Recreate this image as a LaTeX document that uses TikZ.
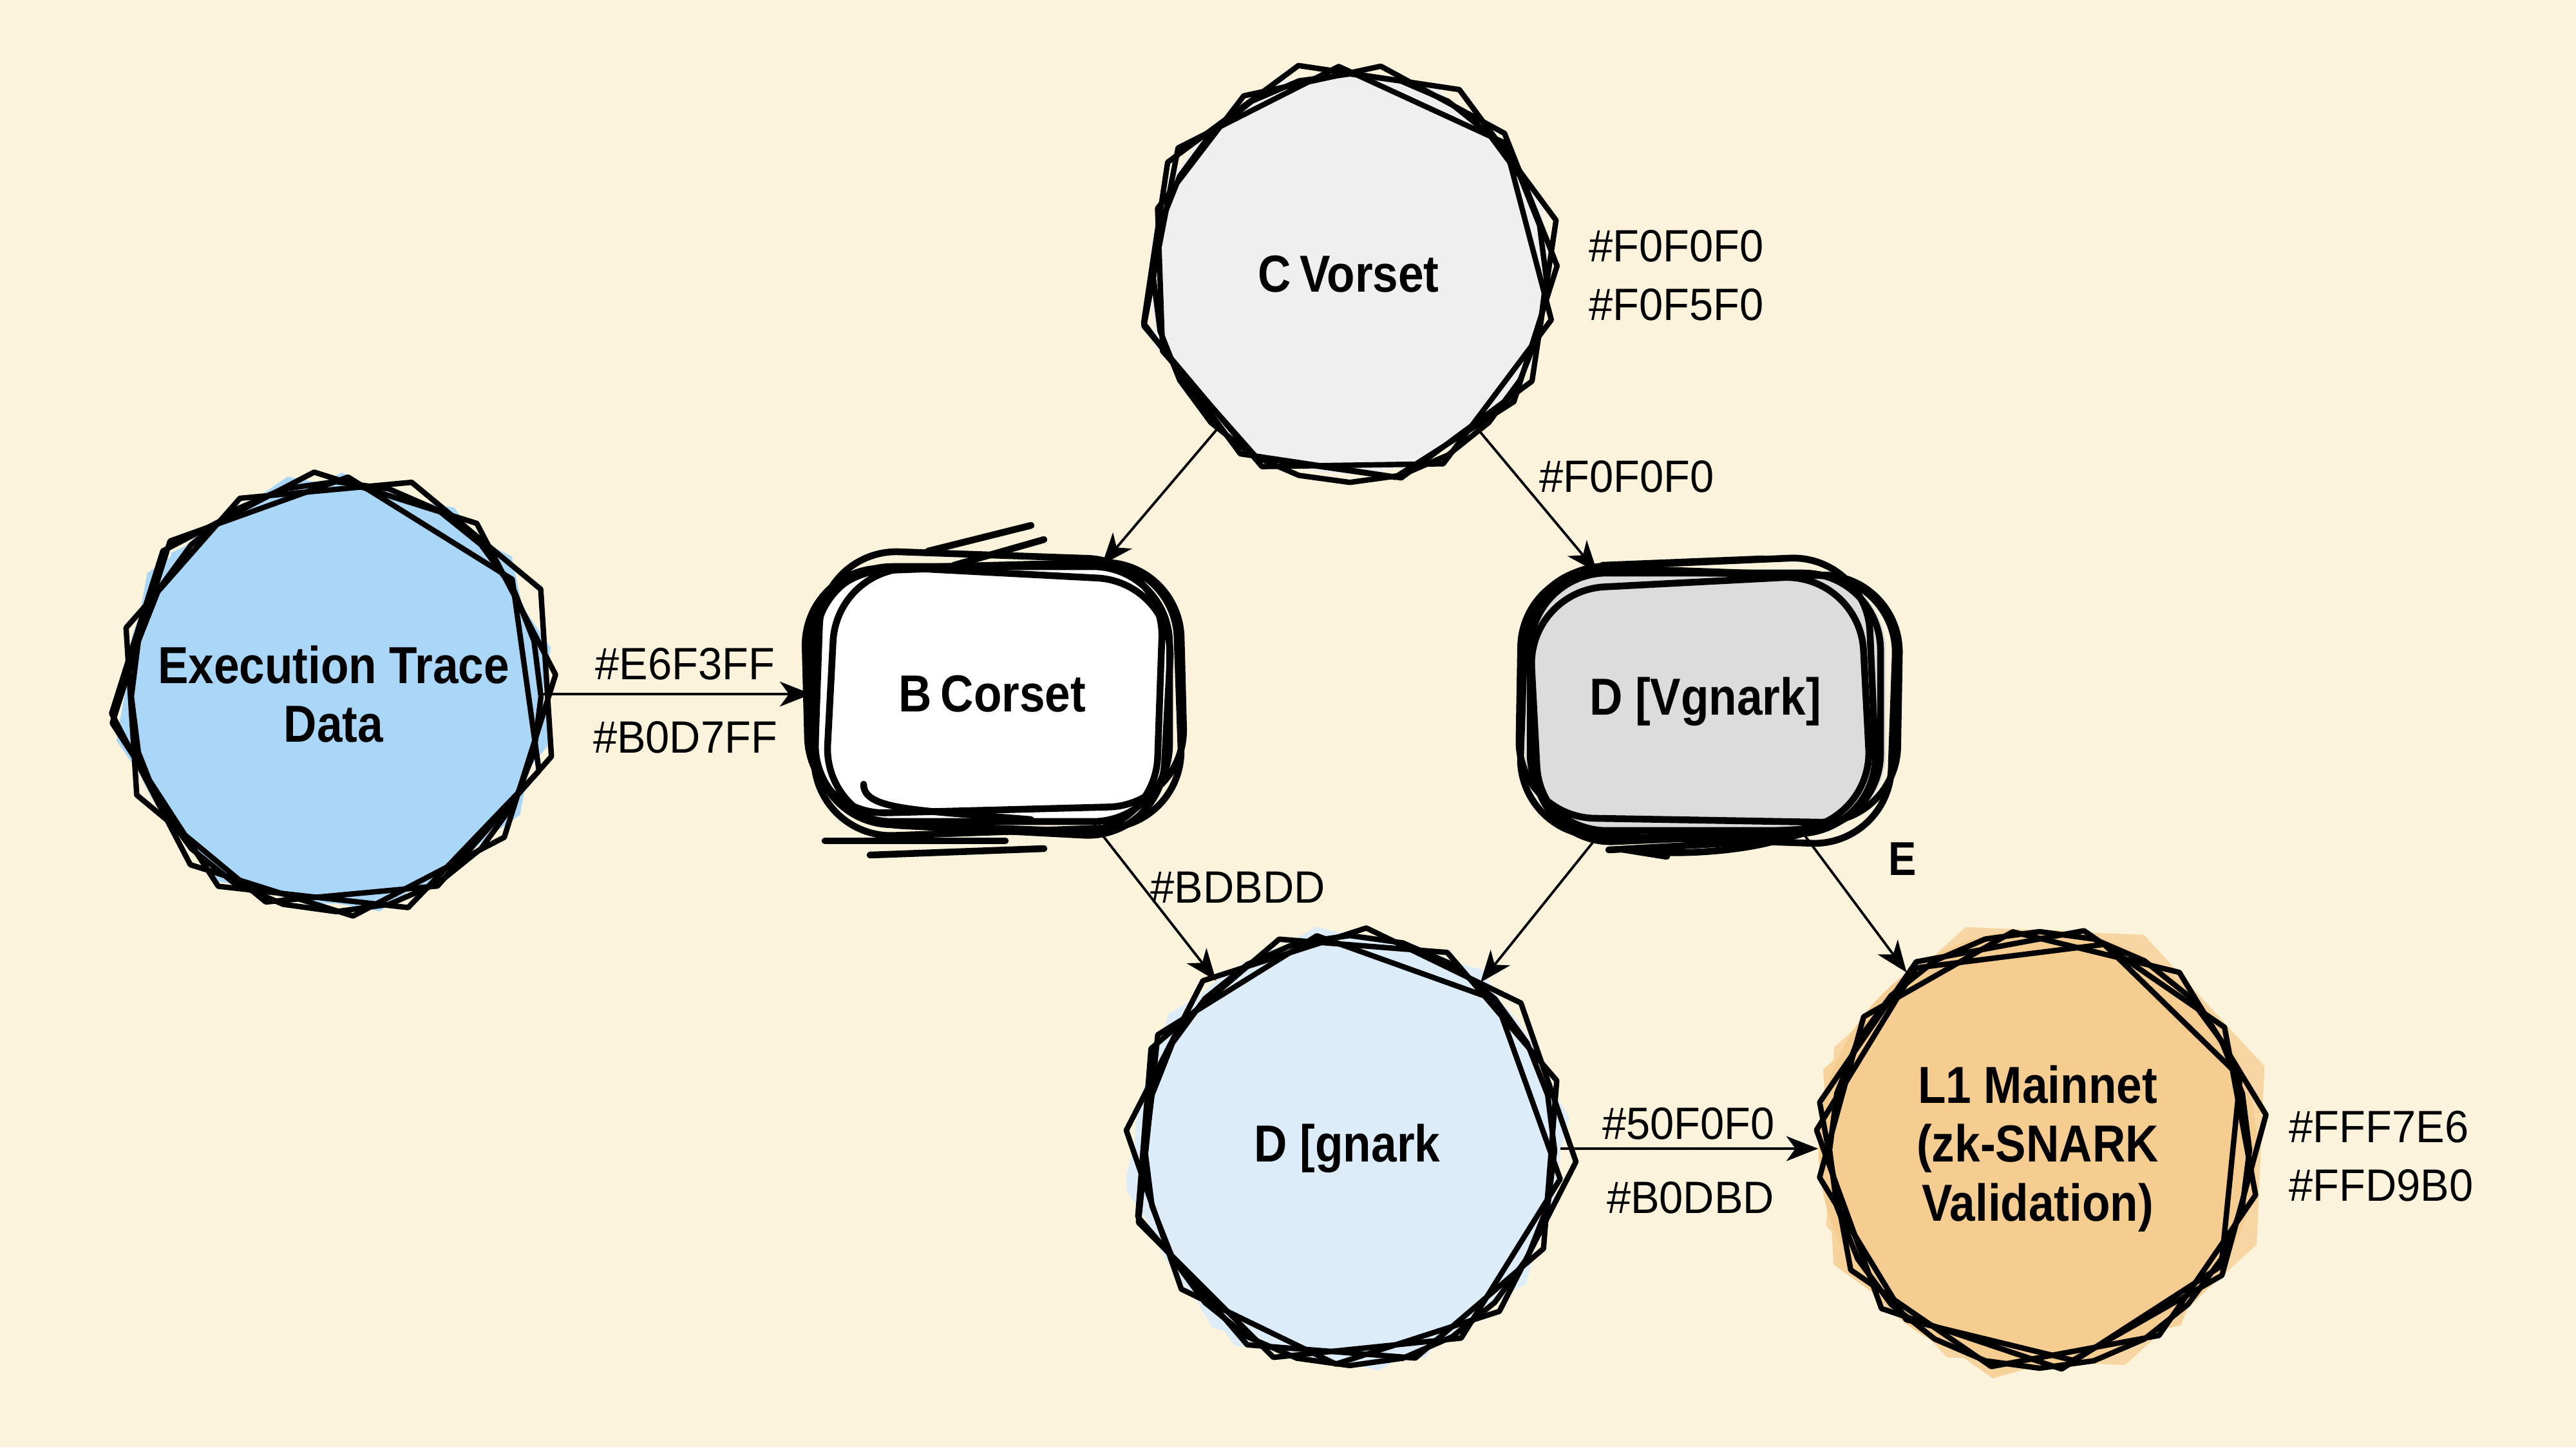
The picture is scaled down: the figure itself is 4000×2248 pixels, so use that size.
\documentclass[tikz,border=0pt]{standalone}
\usepackage{fontspec}
\setmainfont{Liberation Sans}
\newfontfamily\nodefont{Liberation Sans}[FakeStretch=0.88]
\newfontfamily\labfont{Liberation Sans}[FakeStretch=0.95]
\usetikzlibrary{arrows.meta,calc}
\definecolor{bg}{HTML}{FBF3DB}
\definecolor{execfill}{HTML}{AAD7F7}
\definecolor{cvfill}{HTML}{EFEFEF}
\definecolor{bfill}{HTML}{FFFFFF}
\definecolor{vgfill}{HTML}{DCDCDC}
\definecolor{dgfill}{HTML}{DCEDF9}
\definecolor{lfill}{HTML}{F5CD90}
\tikzset{
  skl/.style={draw=black, line width=2.4pt, line join=round, line cap=round},
  skr/.style={draw=black, line width=3pt, line join=round, line cap=round, rounded corners=34pt},
  circnode/.style={circle, inner sep=0pt, align=center, text=black,
    font={\nodefont\bfseries\fontsize{23}{26}\selectfont}},
  boxnode/.style={rectangle, rounded corners=34pt, inner sep=0pt, align=center, text=black,
    minimum width=5.6cm, minimum height=4.0cm,
    font={\nodefont\bfseries\fontsize{23}{26}\selectfont}},
  arr/.style={-{Stealth[length=14pt,width=11pt,inset=4pt]}, line width=1.1pt},
  hexlab/.style={font={\labfont\fontsize{20}{26}\selectfont}, inner sep=0pt, align=left, text=black},
}
\newcommand\skpoly[7]{\draw[skl, shift={(#1)}, shift={(#5,#6)}, rotate=#4, yscale=#7] plot[samples=#2, domain=0:360] (\x:#3);}
\newcommand\skrect[6]{\draw[skr, shift={(#1)}, shift={(#5,#6)}, rotate=#4] (-#2,-#3) rectangle (#2,#3);}
\begin{document}
\begin{tikzpicture}[x=0.01cm, y=-0.01cm]
\useasboundingbox (0,0) rectangle (4000,2248);
\fill[bg] (0,0) rectangle (4000,2248);

% positions
\coordinate (pexec) at (518,1078);
\coordinate (pcv) at (2094,426);
\coordinate (pb) at (1541,1078);
\coordinate (pvg) at (2648,1090);
\coordinate (pdg) at (2092,1784);
\coordinate (pl1) at (3164,1784);

% colour bleed blobs
\fill[execfill, shift={(pexec)}, rotate=12] plot[samples=9, domain=0:360] (\x:345) -- cycle;
\fill[execfill, shift={(pexec)}, shift={(10,-6)}, rotate=38] plot[samples=8, domain=0:360] (\x:338) -- cycle;
\fill[cvfill, shift={(pcv)}, rotate=20] plot[samples=9, domain=0:360] (\x:322) -- cycle;
\fill[dgfill, shift={(pdg)}, rotate=8] plot[samples=9, domain=0:360] (\x:348) -- cycle;
\fill[dgfill, shift={(pdg)}, shift={(-8,10)}, rotate=35] plot[samples=8, domain=0:360] (\x:340) -- cycle;
\fill[lfill!75!bg, shift={(pl1)}, shift={(12,-4)}, rotate=20] plot[samples=9, domain=0:360] (\x:362) -- cycle;
\fill[lfill!85!bg, shift={(pl1)}, shift={(-10,12)}, rotate=3] plot[samples=8, domain=0:360] (\x:350) -- cycle;

% nodes
\node[circnode, fill=execfill, minimum size=6.5cm] (exec) at (pexec) {Execution Trace\\Data};
\node[circnode, fill=cvfill, minimum size=6.2cm] (cv) at (pcv) {C\,Vorset};
\node[boxnode, fill=bfill] (bcor) at (pb) {B\,Corset};
\node[boxnode, fill=vgfill] (vg) at (pvg) {D [Vgnark]};
\node[circnode, fill=dgfill, minimum size=6.6cm] (dg) at (pdg) {D [gnark};
\node[circnode, fill=lfill, minimum size=6.8cm] (l1) at (pl1) {L1 Mainnet\\(zk-SNARK\\Validation)};

% sketchy outlines: circles
\skpoly{exec}{9}{346}{5}{0}{0}{1.0}
\skpoly{exec}{8}{338}{33}{-6}{6}{1.03}
\skpoly{exec}{25}{318}{0}{4}{4}{1.05}
\skpoly{exec}{9}{352}{27}{8}{-3}{0.96}

\skpoly{cv}{9}{330}{14}{2}{-4}{1.0}
\skpoly{cv}{8}{322}{40}{-4}{3}{1.02}
\skpoly{cv}{25}{305}{0}{2}{6}{1.04}
\skpoly{cv}{10}{318}{2}{6}{-2}{1.02}

\skpoly{dg}{9}{342}{18}{0}{0}{1.0}
\skpoly{dg}{8}{335}{45}{-6}{6}{1.02}
\skpoly{dg}{25}{318}{0}{4}{3}{1.05}
\skpoly{dg}{9}{350}{-4}{6}{-4}{0.97}

\skpoly{l1}{9}{346}{-12}{0}{0}{1.0}
\skpoly{l1}{8}{340}{20}{-5}{5}{1.0}
\skpoly{l1}{25}{326}{0}{3}{2}{1.04}
\skpoly{l1}{9}{350}{8}{8}{-4}{0.96}

% sketchy outlines: boxes
\skrect{bcor}{275}{198}{0}{0}{0}
\skrect{bcor}{285}{206}{2}{5}{8}
\skrect{bcor}{266}{212}{-2}{-6}{-4}
\skrect{bcor}{292}{190}{1.5}{3}{-10}
\skrect{bcor}{262}{200}{-3}{10}{12}
\draw[skr] ($(bcor)+(-100,-222)$) -- ($(bcor)+(60,-262)$);
\draw[skr] ($(bcor)+(-60,-200)$) -- ($(bcor)+(80,-240)$);
\draw[skr] ($(bcor)+(-260,228)$) -- ($(bcor)+(20,228)$);
\draw[skr] ($(bcor)+(-190,250)$) -- ($(bcor)+(80,240)$);
\draw[skr] ($(bcor)+(-200,140)$) .. controls ($(bcor)+(-200,180)$) and ($(bcor)+(-120,180)$) .. ($(bcor)+(60,195)$);

\skrect{vg}{272}{200}{0}{0}{0}
\skrect{vg}{288}{208}{-2}{4}{6}
\skrect{vg}{265}{214}{2.5}{-5}{-3}
\skrect{vg}{294}{192}{-1}{6}{-8}
\skrect{vg}{258}{196}{3}{-8}{10}
\draw[skr] ($(vg)+(-160,-212)$) -- ($(vg)+(90,-222)$);
\draw[skr] ($(vg)+(-150,230)$) -- ($(vg)+(120,215)$);
\draw[skr] ($(vg)+(-60,240)$) -- ($(vg)+(-10,248)$) -- ($(vg)+(150,205)$);

% connectors
\draw[arr] (exec) -- (bcor);
\draw[arr] (cv) -- (bcor);
\draw[arr] (cv) -- (vg);
\draw[arr] (bcor) -- (dg);
\draw[arr] (vg) -- (dg);
\draw[arr] (vg) -- (l1);
\draw[arr] (dg) -- (l1);

% labels
\node[hexlab] (le1) at (1064,1031) {\#E6F3FF};
\node[hexlab] (le2) at (1064,1145) {\#B0D7FF};
\node[hexlab, anchor=west] (lcv) at (2467,428) {\#F0F0F0\\\#F0F5F0};
\node[hexlab, anchor=west] (lcvvg) at (2390,740) {\#F0F0F0};
\node[hexlab, anchor=west] (lbdg) at (1786,1378) {\#BDBDD};
\node[font={\nodefont\bfseries\fontsize{21}{24}\selectfont}, inner sep=0pt] (le) at (2954,1334) {E};
\node[hexlab] (ldl1) at (2622,1745) {\#50F0F0};
\node[hexlab] (ldl2) at (2625,1860) {\#B0DBD};
\node[hexlab, anchor=west] (ll1) at (3554,1796) {\#FFF7E6\\\#FFD9B0};
\end{tikzpicture}
\end{document}
